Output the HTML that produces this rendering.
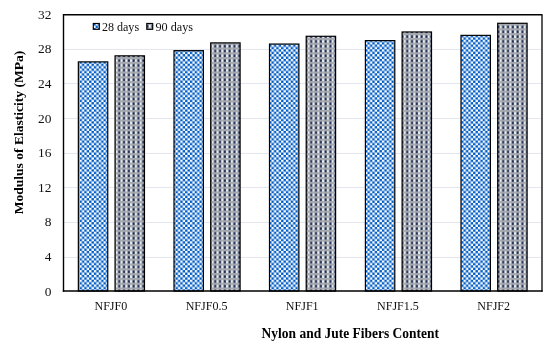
<!DOCTYPE html>
<html lang="en">
<head>
<meta charset="utf-8">
<title>Modulus of Elasticity chart</title>
<style>
html,body{margin:0;padding:0;background:#fff;}
body{width:550px;height:346px;overflow:hidden;}
svg{display:block;}
</style>
</head>
<body>
<svg width="550" height="346" viewBox="0 0 550 346">
<defs>
<pattern id="pb" width="4.8" height="4.8" patternUnits="userSpaceOnUse" x="79.5" y="63.7">
<rect width="4.8" height="4.8" fill="#ffffff"/>
<rect x="0" y="2.4" width="2.4" height="2.4" fill="#005bc4"/>
<rect x="2.4" y="0" width="2.4" height="2.4" fill="#005bc4"/>
</pattern>
<pattern id="pbl" width="4.8" height="4.8" patternUnits="userSpaceOnUse" x="90.8" y="23.2">
<rect width="4.8" height="4.8" fill="#ffffff"/>
<rect x="0" y="2.4" width="2.4" height="2.4" fill="#005bc4"/>
<rect x="2.4" y="0" width="2.4" height="2.4" fill="#005bc4"/>
</pattern>
<pattern id="pgl" width="4.8" height="4.8" patternUnits="userSpaceOnUse" x="148.7" y="22.8">
<rect width="4.8" height="4.8" fill="#b0b6c2"/>
<rect x="0.05" y="2.25" width="2.3" height="2.55" fill="#ffffff"/>
<rect x="2.65" y="2.25" width="1.9" height="2.55" fill="#172b58"/>
</pattern>
<pattern id="pg" width="4.8" height="4.8" patternUnits="userSpaceOnUse" x="115.6" y="57.1">
<rect width="4.8" height="4.8" fill="#a5a8ae"/>
<rect x="0.15" y="2.3" width="2.1" height="2.35" fill="#f6f7f9"/>
<rect x="2.6" y="2.3" width="2.0" height="2.35" fill="#12234c"/>
</pattern>
</defs>
<rect width="550" height="346" fill="#ffffff"/>
<line x1="63.5" x2="542.0" y1="49.45" y2="49.45" stroke="#e3e6ee" stroke-width="1"/>
<line x1="63.5" x2="542.0" y1="83.45" y2="83.45" stroke="#e3e6ee" stroke-width="1"/>
<line x1="63.5" x2="542.0" y1="118.45" y2="118.45" stroke="#e3e6ee" stroke-width="1"/>
<line x1="63.5" x2="542.0" y1="153.45" y2="153.45" stroke="#e3e6ee" stroke-width="1"/>
<line x1="63.5" x2="542.0" y1="187.45" y2="187.45" stroke="#e3e6ee" stroke-width="1"/>
<line x1="63.5" x2="542.0" y1="222.45" y2="222.45" stroke="#e3e6ee" stroke-width="1"/>
<line x1="63.5" x2="542.0" y1="257.45" y2="257.45" stroke="#e3e6ee" stroke-width="1"/>
<rect x="78.35" y="61.89" width="29.4" height="229.16" fill="url(#pb)" stroke="#000" stroke-width="1.2"/>
<rect x="115.05" y="55.84" width="29.4" height="235.21" fill="url(#pg)" stroke="#000" stroke-width="1.2"/>
<rect x="174.00" y="50.66" width="29.4" height="240.39" fill="url(#pb)" stroke="#000" stroke-width="1.2"/>
<rect x="210.70" y="42.89" width="29.4" height="248.16" fill="url(#pg)" stroke="#000" stroke-width="1.2"/>
<rect x="269.50" y="44.06" width="29.4" height="246.99" fill="url(#pb)" stroke="#000" stroke-width="1.2"/>
<rect x="306.20" y="36.29" width="29.4" height="254.76" fill="url(#pg)" stroke="#000" stroke-width="1.2"/>
<rect x="365.40" y="40.60" width="29.4" height="250.45" fill="url(#pb)" stroke="#000" stroke-width="1.2"/>
<rect x="402.10" y="31.97" width="29.4" height="259.08" fill="url(#pg)" stroke="#000" stroke-width="1.2"/>
<rect x="461.00" y="35.37" width="29.4" height="255.68" fill="url(#pb)" stroke="#000" stroke-width="1.2"/>
<rect x="497.70" y="23.28" width="29.4" height="267.77" fill="url(#pg)" stroke="#000" stroke-width="1.2"/>
<line x1="63.5" x2="63.5" y1="14.05" y2="291.75" stroke="#000" stroke-width="1.4"/>
<line x1="63.5" x2="542.5" y1="14.75" y2="14.75" stroke="#000" stroke-width="1.4"/>
<line x1="542.0" x2="542.0" y1="14.75" y2="291.75" stroke="#222" stroke-width="1.5"/>
<line x1="62.8" x2="542.5" y1="291.05" y2="291.05" stroke="#000" stroke-width="1.4"/>
<g font-family="'Liberation Serif', serif" font-size="13.4" fill="#111" text-anchor="end">
<text x="51.5" y="296.00">0</text>
<text x="51.5" y="261.10">4</text>
<text x="51.5" y="226.30">8</text>
<text x="51.5" y="191.60">12</text>
<text x="51.5" y="156.60">16</text>
<text x="51.5" y="122.50">20</text>
<text x="51.5" y="87.90">24</text>
<text x="51.5" y="53.00">28</text>
<text x="51.5" y="19.20">32</text>
</g>
<g font-family="'Liberation Serif', serif" font-size="12.5" fill="#111" text-anchor="middle" lengthAdjust="spacingAndGlyphs">
<text x="110.85" y="309.7" textLength="32.8" lengthAdjust="spacingAndGlyphs">NFJF0</text>
<text x="206.55" y="309.7" textLength="41.8" lengthAdjust="spacingAndGlyphs">NFJF0.5</text>
<text x="302.25" y="309.7" textLength="32.8" lengthAdjust="spacingAndGlyphs">NFJF1</text>
<text x="397.95" y="309.7" textLength="41.8" lengthAdjust="spacingAndGlyphs">NFJF1.5</text>
<text x="493.65" y="309.7" textLength="32.8" lengthAdjust="spacingAndGlyphs">NFJF2</text>
</g>
<rect x="93.3" y="23.5" width="6.0" height="5.8" fill="url(#pbl)" stroke="#000" stroke-width="1.2"/>
<text x="101.9" y="31.0" font-family="'Liberation Serif', serif" font-size="12.6" textLength="37.2" lengthAdjust="spacingAndGlyphs" fill="#111">28 days</text>
<rect x="146.8" y="23.5" width="5.9" height="5.8" fill="url(#pgl)" stroke="#000" stroke-width="1.2"/>
<text x="155.4" y="31.0" font-family="'Liberation Serif', serif" font-size="12.6" textLength="37.6" lengthAdjust="spacingAndGlyphs" fill="#111">90 days</text>
<text x="350.3" y="337.6" text-anchor="middle" textLength="177.4" lengthAdjust="spacingAndGlyphs" font-family="'Liberation Serif', serif" font-weight="bold" font-size="13.9" fill="#000">Nylon and Jute Fibers Content</text>
<text transform="translate(22.9 132.5) rotate(-90)" text-anchor="middle" textLength="163.6" lengthAdjust="spacingAndGlyphs" font-family="'Liberation Serif', serif" font-weight="bold" font-size="13.4" fill="#000">Modulus of Elasticity (MPa)</text>
</svg>
</body>
</html>
